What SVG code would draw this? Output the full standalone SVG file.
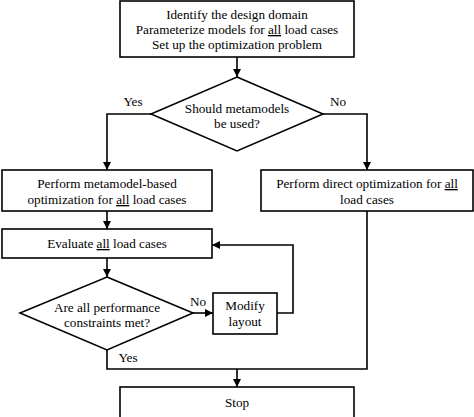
<svg xmlns="http://www.w3.org/2000/svg" width="474" height="417" viewBox="0 0 474 417">
<defs>
<marker id="arr" viewBox="0 0 10 10" refX="10" refY="5" markerWidth="8" markerHeight="8" markerUnits="userSpaceOnUse" orient="auto">
<path d="M0,0 L10,5 L0,10 z" fill="#000"/>
</marker>
<style>
.box{fill:#fff;stroke:#000;stroke-width:1.6}
.ln{fill:none;stroke:#000;stroke-width:1.6}
text{font-family:"Liberation Serif","Times New Roman",serif;font-size:13.2px;fill:#000;text-anchor:middle}
.u{text-decoration:underline}
</style>
</defs>
<rect width="474" height="417" fill="#fff"/>
<g id="connectors">
<path class="ln" d="M237,57 V77" marker-end="url(#arr)"/>
<path class="ln" d="M151,114 H107 V170" marker-end="url(#arr)"/>
<path class="ln" d="M323,114 H367 V170" marker-end="url(#arr)"/>
<path class="ln" d="M107,211 V229" marker-end="url(#arr)"/>
<path class="ln" d="M107,258 V277" marker-end="url(#arr)"/>
<path class="ln" d="M193,313 H213" marker-end="url(#arr)"/>
<path class="ln" d="M277,313 H293 V245 H212" marker-end="url(#arr)"/>
<path class="ln" d="M107,350 V369 H367 V211"/>
<path class="ln" d="M237,369 V387" marker-end="url(#arr)"/>
<text x="133" y="106">Yes</text>
<text x="338" y="106">No</text>
<text x="198" y="306">No</text>
<text x="128" y="362">Yes</text>
</g>
<g id="start">
<rect class="box" x="120" y="1" width="234" height="56"/>
<text x="237" y="19">Identify the design domain</text>
<text x="237" y="34">Parameterize models for <tspan class="u">all</tspan> load cases</text>
<text x="237" y="49">Set up the optimization problem</text>
</g>
<g id="decision1">
<polygon class="box" points="237,77 323,114 237,151 151,114"/>
<text x="237" y="113">Should metamodels</text>
<text x="237" y="128">be used?</text>
</g>
<g id="metamodel">
<rect class="box" x="2" y="170" width="210" height="41"/>
<text x="107" y="188">Perform metamodel-based</text>
<text x="107" y="204">optimization for <tspan class="u">all</tspan> load cases</text>
</g>
<g id="direct">
<rect class="box" x="261" y="170" width="212" height="41"/>
<text x="367" y="188">Perform direct optimization for <tspan class="u">all</tspan></text>
<text x="367" y="204">load cases</text>
</g>
<g id="evaluate">
<rect class="box" x="2" y="229" width="210" height="29"/>
<text x="107" y="248">Evaluate <tspan class="u">all</tspan> load cases</text>
</g>
<g id="decision2">
<polygon class="box" points="107,277 193,313 107,350 20,313"/>
<text x="107" y="312">Are all performance</text>
<text x="107" y="327">constraints met?</text>
</g>
<g id="modify">
<rect class="box" x="213" y="293" width="64" height="41"/>
<text x="245" y="310">Modify</text>
<text x="245" y="326">layout</text>
</g>
<g id="stop">
<rect class="box" x="120" y="387" width="234" height="34"/>
<text x="237" y="407">Stop</text>
</g>
</svg>
